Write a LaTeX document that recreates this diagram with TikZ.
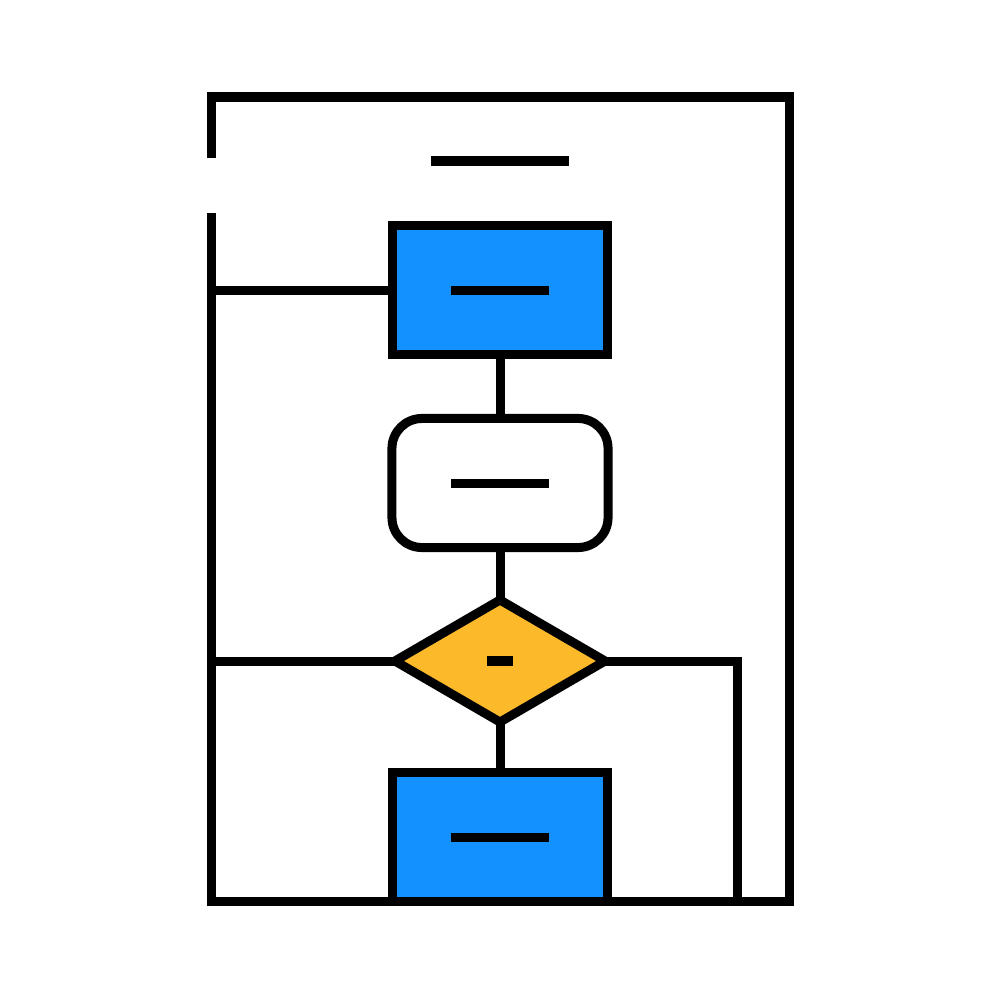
\documentclass[tikz,border=0pt]{standalone}
\usepackage{tikz}
\usetikzlibrary{shapes.geometric}
\usetikzlibrary{positioning}
\usetikzlibrary{calc}
\definecolor{procblue}{RGB}{18,145,255}
\definecolor{checkyellow}{RGB}{252,185,42}

\begin{document}
\begin{tikzpicture}[x=0.01cm,y=-0.01cm,line width=0.09cm,
	process/.style={draw,fill=procblue,minimum width=2.14cm,minimum height=1.28cm,inner sep=0pt,outer sep=0pt},
	terminal/.style={draw,fill=white,rounded corners=0.3cm,minimum width=2.16cm,minimum height=1.29cm,inner sep=0pt,outer sep=0pt},
	decision/.style={draw,fill=checkyellow,diamond,aspect=1.72,minimum width=2.1cm,minimum height=1.22cm,inner sep=0pt,outer sep=0pt}]
		\useasboundingbox (0,0) rectangle (1000,1000);
		% page frame, open on the left near the top
		\coordinate (gaptop) at (211,158);
		\coordinate (gapbot) at (211,213);
		\coordinate (loop) at (737.5,901);
		\coordinate (title) at (500,161);
		\draw (gaptop) -- (211,97) -- (789,97) -- (789,901) -- (211,901) -- (gapbot);
		\draw ([xshift=-0.69cm]title) -- ([xshift=0.69cm]title);
		% flow chart
		\node[process] (start) at (500,290) {};
		\node[terminal] (task) at (500,483) {};
		\node[decision] (check) at (500,661) {};
		\node[process] (finish) at (500,837) {};
		\draw (start) -- (task);
		\draw (task) -- (check);
		\draw (check) -- (finish);
		\draw (start.west) -- (start.west -| gapbot);
		\draw (check.west) -- (check.west -| gapbot);
		\draw (check.east) -- (check.east -| loop) -- (loop);
		\foreach \n in {start,task,finish}
			\draw ([xshift=-0.49cm]\n.center) -- ([xshift=0.49cm]\n.center);
		\draw[line width=0.1cm] ([xshift=-0.13cm]check.center) -- ([xshift=0.13cm]check.center);
		\end{tikzpicture}
\end{document}
